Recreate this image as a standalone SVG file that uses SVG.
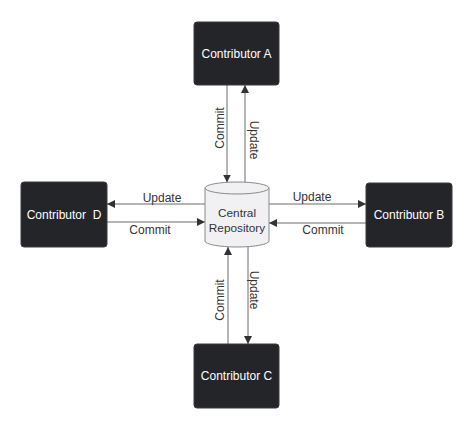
<svg xmlns="http://www.w3.org/2000/svg" width="474" height="430" viewBox="0 0 474 430">
<defs>
<style>
.box{fill:#242529;stroke:#3a3b40;stroke-width:1}
.nt{font-family:"Liberation Sans",Arial,sans-serif;font-size:12px;fill:#ffffff;text-anchor:middle;white-space:pre}
.lbl{font-family:"Liberation Sans",Arial,sans-serif;font-size:12px;fill:#333333;text-anchor:middle}
.ln{stroke:#6b6b6b;stroke-width:1;fill:none;marker-end:url(#ah)}
.cyl{fill:#f1f1f3;stroke:#8a8a8e;stroke-width:1}
.ct{font-family:"Liberation Sans",Arial,sans-serif;font-size:11.8px;fill:#333333;text-anchor:middle}
</style>
<marker id="ah" viewBox="0 0 10 10" refX="10" refY="5" markerWidth="8" markerHeight="8" markerUnits="userSpaceOnUse" orient="auto">
<path d="M0,0 L10,5 L0,10 z" fill="#333333"/>
</marker>
</defs>
<rect width="474" height="430" fill="#ffffff"/>
<g id="connectors">
<line class="ln" x1="227" y1="85" x2="227" y2="182.5"/>
<line class="ln" x1="245" y1="182.5" x2="245" y2="85"/>
<line class="ln" x1="205" y1="204" x2="107" y2="204"/>
<line class="ln" x1="107" y1="222" x2="205" y2="222"/>
<line class="ln" x1="269" y1="204" x2="366" y2="204"/>
<line class="ln" x1="366" y1="223" x2="269" y2="223"/>
<line class="ln" x1="228" y1="344" x2="228" y2="247"/>
<line class="ln" x1="248" y1="247" x2="248" y2="344"/>
<text class="lbl" transform="translate(224,128) rotate(-90)">Commit</text>
<text class="lbl" transform="translate(250,140) rotate(90)">Update</text>
<text class="lbl" x="162" y="202">Update</text>
<text class="lbl" x="150" y="234">Commit</text>
<text class="lbl" x="312" y="201">Update</text>
<text class="lbl" x="323" y="234">Commit</text>
<text class="lbl" transform="translate(224,300) rotate(-90)">Commit</text>
<text class="lbl" transform="translate(250,290) rotate(90)">Update</text>
</g>
<g id="contributor-a">
<rect class="box" x="194" y="22" width="85" height="63" rx="3"/>
<text class="nt" x="236.5" y="57.5">Contributor A</text>
</g>
<g id="contributor-d">
<rect class="box" x="21" y="182" width="86" height="65" rx="3"/>
<text class="nt" x="64" y="218.5">Contributor  D</text>
</g>
<g id="contributor-b">
<rect class="box" x="366" y="183" width="86" height="64" rx="3"/>
<text class="nt" x="409" y="219">Contributor B</text>
</g>
<g id="contributor-c">
<rect class="box" x="194" y="344" width="85" height="64" rx="3"/>
<text class="nt" x="236.5" y="380">Contributor C</text>
</g>
<g id="central-repository">
<path class="cyl" d="M205,188 L205,241 A32,6 0 0 0 269,241 L269,188 A32,6 0 0 0 205,188 Z"/>
<path class="cyl" d="M205,188 A32,6 0 0 0 269,188" fill="none"/>
<text class="ct" x="237" y="217">Central</text>
<text class="ct" x="237" y="231.5">Repository</text>
</g>
</svg>
